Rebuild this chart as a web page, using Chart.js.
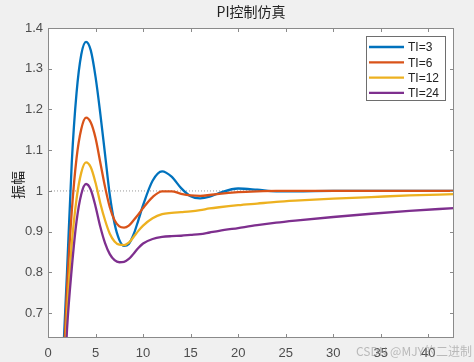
<!DOCTYPE html>
<html>

<head>
    <title>PI控制仿真</title>
    <script src="https://cdn.jsdelivr.net/npm/chart.js"></script>
    <style>
        body {
            margin: 0;
            background-color: #f0f0f0;
        }

        canvas {
            display: block;
        }
    </style>
</head>

<body>
    <canvas id="piChart" width="474" height="362"></canvas>

    <script>
        // time axis shared by all four responses
        const times = [0, 1, 1.5, 2, 2.5, 3, 3.5, 4, 4.5, 5, 5.5, 6, 6.5, 7, 7.5, 8, 8.5, 9, 9.5, 10,
            11, 12, 13, 14, 15, 16, 17, 18, 20, 22, 24, 26, 30, 34, 38, 42.7];

        const ti3 = [0, 0.3, 0.55, 0.8, 1.07, 1.24, 1.335, 1.366, 1.345, 1.28, 1.19, 1.09, 0.99, 0.92, 0.88, 0.865, 0.87, 0.893, 0.928, 0.965,
            1.025, 1.048, 1.035, 1.007, 0.987, 0.982, 0.986, 0.995, 1.006, 1.003, 0.999, 0.999, 1.0, 1.0, 1.0, 1.0];
        const ti6 = [0, 0.25, 0.5, 0.76, 0.95, 1.08, 1.152, 1.18, 1.168, 1.13, 1.07, 1.01, 0.96, 0.928, 0.913, 0.91, 0.915, 0.928, 0.942, 0.958,
            0.985, 0.999, 0.999, 0.993, 0.989, 0.988, 0.99, 0.993, 0.997, 0.999, 1.0, 1.0, 1.0, 1.0, 1.0, 1.0];
        const ti12 = [0, 0.22, 0.45, 0.7, 0.87, 0.98, 1.045, 1.07, 1.058, 1.02, 0.97, 0.928, 0.895, 0.876, 0.868, 0.867, 0.873, 0.887, 0.902, 0.915,
            0.933, 0.943, 0.946, 0.948, 0.95, 0.953, 0.957, 0.96, 0.965, 0.969, 0.973, 0.976, 0.981, 0.985, 0.989, 0.992];
        const ti24 = [0, 0.2, 0.42, 0.66, 0.81, 0.925, 0.992, 1.017, 1.003, 0.962, 0.912, 0.872, 0.845, 0.83, 0.825, 0.826, 0.833, 0.846, 0.86, 0.871,
            0.882, 0.887, 0.889, 0.89, 0.892, 0.894, 0.898, 0.902, 0.909, 0.916, 0.922, 0.927, 0.936, 0.944, 0.951, 0.958];

        const seriesNames = ['TI=3', 'TI=6', 'TI=12', 'TI=24'];
        const seriesValues = [ti3, ti6, ti12, ti24];
        const seriesColors = ['#0072BD', '#D95319', '#EDB120', '#7E2F8E'];

        const xTicks = [0, 5, 10, 15, 20, 25, 30, 35, 40];
        const yTicks = [0.7, 0.8, 0.9, 1, 1.1, 1.2, 1.3, 1.4];

        const xMin = 0, xMax = 42.7;
        const yMin = 0.639, yMax = 1.4;
        const refLevel = 1;

        const tickColor = '#4d4d4d';
        const frameColor = '#8a8a8a';
        const latinFont = "'Liberation Sans', Arial, sans-serif";
        const cjkFont = "'Noto Sans CJK SC', sans-serif";

        const datasets = seriesNames.map((name, i) => ({
            label: name,
            data: times.map((t, k) => ({ x: t, y: seriesValues[i][k] })),
            borderColor: seriesColors[i],
            backgroundColor: seriesColors[i],
            borderWidth: 2.3,
            pointRadius: 0,
            cubicInterpolationMode: 'monotone',
            clip: 0,
            order: seriesNames.length - i
        }));

        // dotted steady-state line
        datasets.push({
            label: '',
            isRef: true,
            data: [{ x: xMin, y: refLevel }, { x: xMax, y: refLevel }],
            borderColor: '#9a9a9a',
            borderWidth: 1,
            borderDash: [1, 2],
            pointRadius: 0,
            clip: 0,
            order: 10
        });

        const matlabLook = {
            id: 'matlabLook',
            beforeDraw(chart) {
                const { ctx, chartArea: a } = chart;
                ctx.save();
                ctx.fillStyle = '#f0f0f0';
                ctx.fillRect(0, 0, chart.width, chart.height);
                ctx.fillStyle = '#ffffff';
                ctx.fillRect(a.left, a.top, a.right - a.left, a.bottom - a.top);
                ctx.restore();
            },
            afterDraw(chart) {
                const { ctx, chartArea: a, scales } = chart;
                ctx.save();

                // frame
                ctx.strokeStyle = frameColor;
                ctx.lineWidth = 1;
                ctx.strokeRect(a.left + 0.5, a.top + 0.5, a.right - a.left - 1, a.bottom - a.top - 1);

                // inward ticks on all four sides
                const tl = 4;
                ctx.beginPath();
                scales.x.ticks.forEach(t => {
                    const px = Math.round(scales.x.getPixelForValue(t.value)) + 0.5;
                    ctx.moveTo(px, a.bottom); ctx.lineTo(px, a.bottom - tl);
                    ctx.moveTo(px, a.top); ctx.lineTo(px, a.top + tl);
                });
                scales.y.ticks.forEach(t => {
                    const py = Math.round(scales.y.getPixelForValue(t.value)) + 0.5;
                    ctx.moveTo(a.left, py); ctx.lineTo(a.left + tl, py);
                    ctx.moveTo(a.right, py); ctx.lineTo(a.right - tl, py);
                });
                ctx.stroke();

                // title
                ctx.fillStyle = '#222222';
                ctx.font = '14px ' + cjkFont;
                ctx.textAlign = 'center';
                ctx.textBaseline = 'middle';
                ctx.fillText('PI控制仿真', (a.left + a.right) / 2, 12);

                // y axis label
                ctx.save();
                ctx.translate(18, (a.top + a.bottom) / 2 + 2);
                ctx.rotate(-Math.PI / 2);
                ctx.font = '14px ' + cjkFont;
                ctx.fillText('振幅', 0, 0);
                ctx.restore();

                // legend box
                const lx = 366, ly = 36, lw = 79, lh = 64;
                ctx.fillStyle = '#ffffff';
                ctx.fillRect(lx, ly, lw, lh);
                ctx.strokeStyle = '#6e6e6e';
                ctx.lineWidth = 1;
                ctx.strokeRect(lx + 0.5, ly + 0.5, lw, lh);
                ctx.font = '12px ' + latinFont;
                ctx.textAlign = 'left';
                chart.data.datasets.filter(d => !d.isRef).forEach((d, i) => {
                    const ry = ly + 11 + i * 15.3;
                    ctx.strokeStyle = d.borderColor;
                    ctx.lineWidth = 2.3;
                    ctx.beginPath();
                    ctx.moveTo(lx + 3, ry);
                    ctx.lineTo(lx + 38, ry);
                    ctx.stroke();
                    ctx.fillStyle = '#222222';
                    ctx.fillText(d.label, lx + 42, ry + 1);
                });

                // watermark
                ctx.font = '12px ' + cjkFont;
                ctx.fillStyle = 'rgba(140, 140, 140, 0.55)';
                ctx.textAlign = 'left';
                ctx.fillText('CSDN @MJY的二进制', 356, 351);

                ctx.restore();
            }
        };

        const ctx = document.getElementById('piChart').getContext('2d');
        const piChart = new Chart(ctx, {
            type: 'line',
            data: { datasets: datasets },
            options: {
                responsive: false,
                animation: false,
                layout: {
                    padding: { top: 28, right: 20, bottom: 0, left: 0 }
                },
                plugins: {
                    legend: { display: false },
                    title: { display: false },
                    tooltip: { enabled: false }
                },
                scales: {
                    x: {
                        type: 'linear',
                        min: xMin,
                        max: xMax,
                        afterFit(s) { s.height = 24; },
                        afterBuildTicks(s) { s.ticks = xTicks.map(v => ({ value: v })); },
                        grid: { display: false, drawTicks: false },
                        border: { display: false },
                        ticks: {
                            padding: 8,
                            color: tickColor,
                            font: { family: latinFont, size: 13 },
                            maxRotation: 0,
                            autoSkip: false,
                            callback: v => String(v)
                        }
                    },
                    y: {
                        type: 'linear',
                        min: yMin,
                        max: yMax,
                        afterFit(s) { s.width = 48; },
                        afterBuildTicks(s) { s.ticks = yTicks.map(v => ({ value: v })); },
                        grid: { display: false, drawTicks: false },
                        border: { display: false },
                        ticks: {
                            padding: 5,
                            color: tickColor,
                            font: { family: latinFont, size: 13 },
                            autoSkip: false,
                            callback: v => Number(v.toFixed(2)).toString()
                        }
                    }
                }
            },
            plugins: [matlabLook]
        });
    </script>
</body>

</html>
